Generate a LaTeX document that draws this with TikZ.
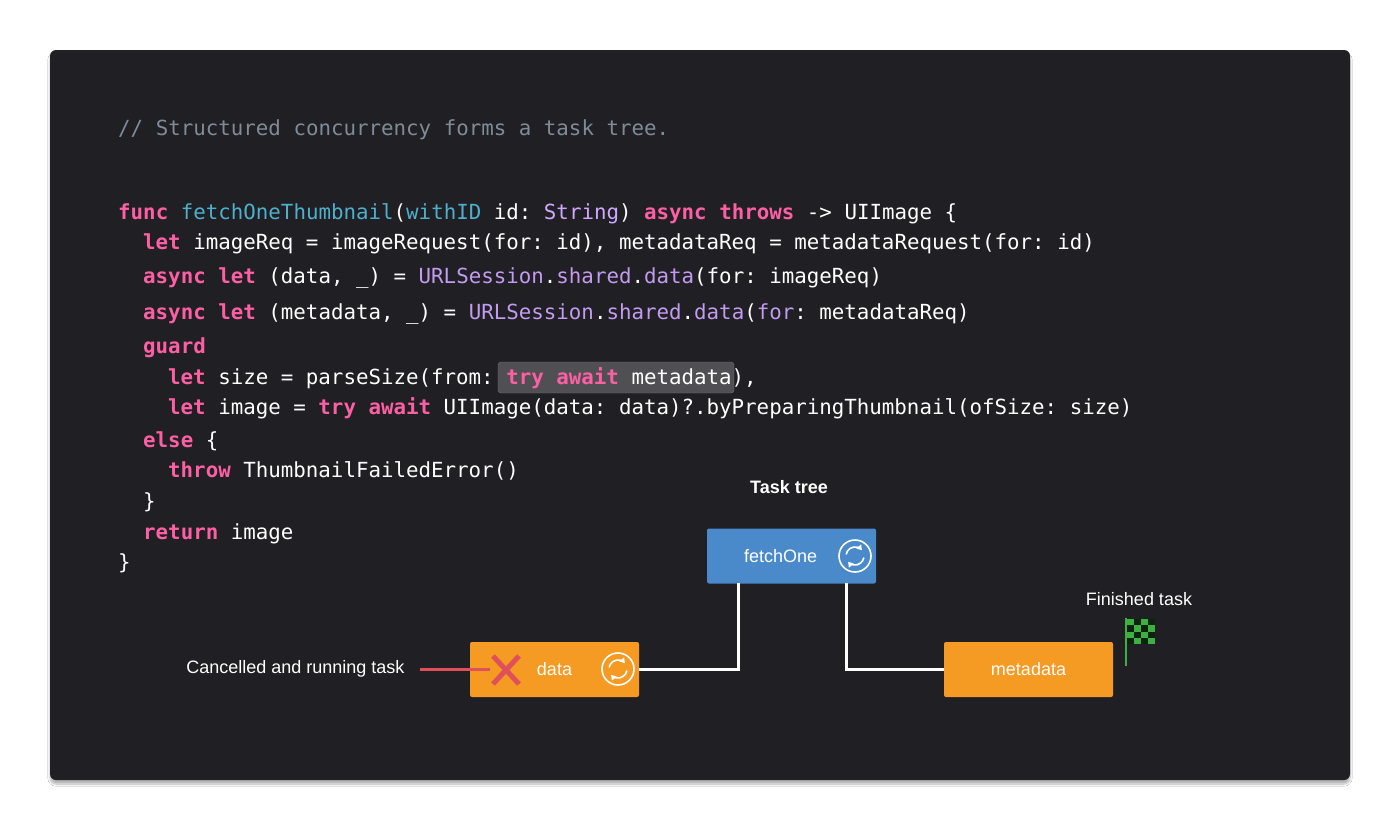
\documentclass[tikz,border=0pt]{standalone}
\usepackage{fontspec}
\setmainfont{Liberation Sans}
\setmonofont{DejaVu Sans Mono}
\usetikzlibrary{positioning,arrows.meta,shadows.blur,calc}

\definecolor{cardbg}{HTML}{1F1F24}
\definecolor{kwpink}{HTML}{FC5FA3}
\definecolor{fncyan}{HTML}{4EB0CC}
\definecolor{typurple}{HTML}{C39BEF}
\definecolor{lbpurple}{HTML}{D0A8FF}
\definecolor{cmgray}{HTML}{7F8C98}
\definecolor{boxblue}{HTML}{4A8ACB}
\definecolor{boxorange}{HTML}{F59A23}
\definecolor{xred}{HTML}{E0505A}
\definecolor{flaggreen}{HTML}{3CB043}

\newcommand{\kw}[1]{\textcolor{kwpink}{\bfseries #1}}
\newcommand{\fn}[1]{\textcolor{fncyan}{#1}}
\newcommand{\ty}[1]{\textcolor{typurple}{#1}}
\newcommand{\lb}[1]{\textcolor{lbpurple}{#1}}

\tikzset{
  code/.style={anchor=base west, inner sep=0pt, text=white, font=\ttfamily\fontsize{20.8}{24}\selectfont},
  task/.style={rounded corners=2pt, minimum width=169pt, minimum height=55pt, text=white, font=\fontsize{18}{21}\selectfont},
  link/.style={draw=white, line width=3pt},
  note/.style={text=white, font=\fontsize{18}{21}\selectfont},
}

\newcommand{\syncicon}[1]{%
  \draw[white, line width=1.6pt] (#1) circle (16pt);
  \draw[white, line width=1.6pt, -{Triangle[length=5pt,width=6pt]}] ($(#1)+(170:9pt)$) arc (170:40:9pt);
  \draw[white, line width=1.6pt, -{Triangle[length=5pt,width=6pt]}] ($(#1)+(-10:9pt)$) arc (-10:-140:9pt);
}

\begin{document}
\begin{tikzpicture}[x=1pt, y=-1pt]
  \useasboundingbox (0,0) rectangle (1400,830);
  \fill[white] (0,0) rectangle (1400,830);
  \fill[cardbg, rounded corners=6pt, blur shadow={shadow blur steps=8, shadow xshift=0pt, shadow yshift=-4pt, shadow opacity=30}] (50,50) rectangle (1350,780);

  % highlight behind try await metadata
  \draw[fill=white!22!cardbg, draw=white!38!cardbg, rounded corners=3pt] (498,362) rectangle (734,393);

  % code
  \node[code, text=cmgray] (cm) at (118,135) {// Structured concurrency forms a task tree.};
  \node[code] (l1) at (118,219) {\kw{func} \fn{fetchOneThumbnail}(\fn{withID} id: \lb{String}) \kw{async} \kw{throws} -> UIImage \{};
  \node[code] (l2) at (143,249) {\kw{let} imageReq = imageRequest(for: id), metadataReq = metadataRequest(for: id)};
  \node[code] (l3) at (143,283) {\kw{async} \kw{let} (data, \_) = \ty{URLSession}.\ty{shared}.\ty{data}(for: imageReq)};
  \node[code] (l4) at (143,319) {\kw{async} \kw{let} (metadata, \_) = \ty{URLSession}.\ty{shared}.\ty{data}(\ty{for}: metadataReq)};
  \node[code] (l5) at (143,353) {\kw{guard}};
  \node[code] (l6) at (168,384) {\kw{let} size = parseSize(from: \kw{try} \kw{await} metadata),};
  \node[code] (l7) at (168,414) {\kw{let} image = \kw{try} \kw{await} UIImage(data: data)?.byPreparingThumbnail(ofSize: size)};
  \node[code] (l8) at (143,447) {\kw{else} \{};
  \node[code] (l9) at (168,477) {\kw{throw} ThumbnailFailedError()};
  \node[code] (l10) at (143,508) {\}};
  \node[code] (l11) at (143,539) {\kw{return} image};
  \node[code] (l12) at (118,569) {\}};

  % task tree
  \node[note, font=\bfseries\fontsize{18}{21}\selectfont] (title) at (789,487) {Task tree};
  \node[task, fill=boxblue] (fetch) at (791.5,556) {\hspace*{-1.2em}fetchOne};
  \node[task, fill=boxorange] (data) at (554.5,669.5) {data};
  \node[task, fill=boxorange] (meta) at (1028.5,669.5) {metadata};

  \coordinate (fl) at (738,583);
  \coordinate (fr) at (846,583);
  \draw[link] (fl) |- (data.east);
  \draw[link] (fr) |- (meta.west);

  \syncicon{855,556}
  \syncicon{618,669}

  % cancelled marker
  \node[note, anchor=east] (cancel) at (408,669) {Cancelled and running task};
  \coordinate (cx) at (506,670);
  \draw[xred, line width=3pt] (420,669) -- (490,669);
  \draw[xred, line width=5pt] ($(cx)+(-13,-14)$) -- ($(cx)+(13,14)$);
  \draw[xred, line width=5pt] ($(cx)+(-13,14)$) -- ($(cx)+(13,-14)$);

  % finished marker
  \node[note] (done) at (1139,599) {Finished task};
  \coordinate (pole) at (1126,618);
  \draw[flaggreen, line width=2.2pt] (pole) -- (1126,666);
  \fill[flaggreen] (1127,619) rectangle (1155,644);
  \foreach \i in {0,...,3}{
    \foreach \j in {0,...,3}{
      \pgfmathtruncatemacro{\odd}{mod(\i+\j,2)}
      \ifnum\odd=1 \fill[black!80!flaggreen] ({1127+7*\i},{619+6.25*\j}) rectangle ++(7,6.25); \fi
    }
  }
\end{tikzpicture}
\end{document}
